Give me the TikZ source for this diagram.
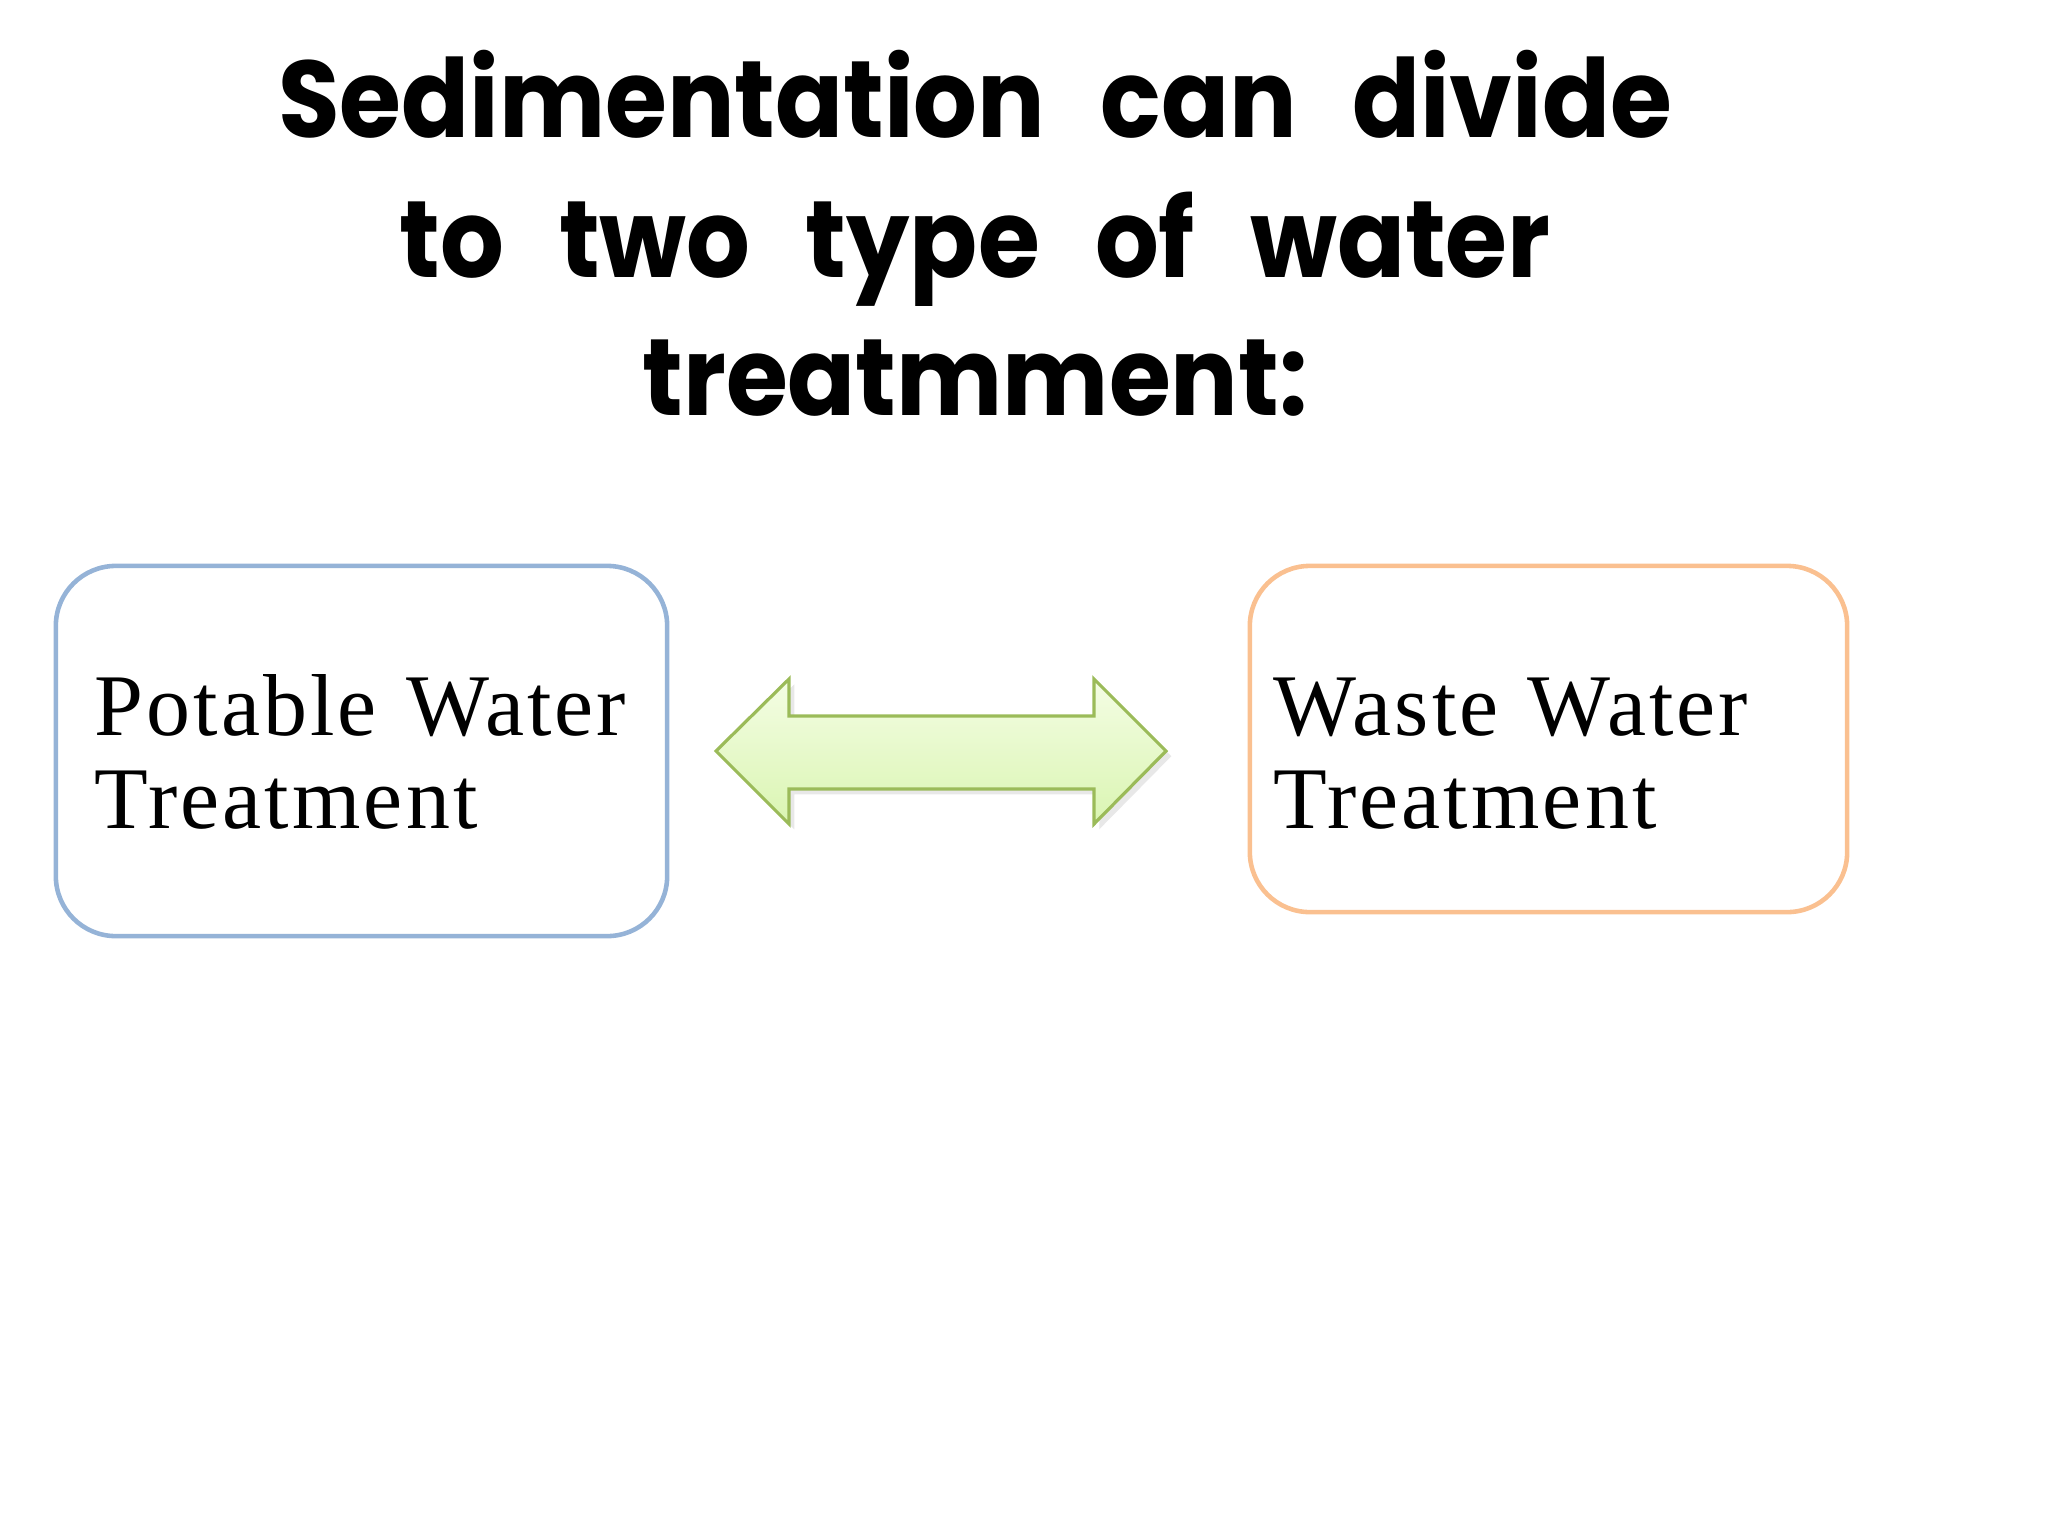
\documentclass[tikz,border=0pt]{standalone}
\usepackage{graphicx}
\usepackage{fontspec}
\usetikzlibrary{shadows}
\newfontfamily\boxfont{Liberation Serif}[LetterSpace=3.5]
\newfontfamily\titlefont{Poppins}
\newcommand{\ttlline}[1]{\scalebox{0.92}[1]{\spaceskip=0.55em\relax #1}}
\definecolor{blueline}{RGB}{149,179,215}
\definecolor{orangeline}{RGB}{250,192,144}
\definecolor{arrowline}{RGB}{155,187,89}
\definecolor{arrowtop}{RGB}{244,253,228}
\definecolor{arrowbot}{RGB}{218,245,178}
\tikzset{
  roundbox/.style={draw, line width=1.3pt, rounded corners=0.6cm, fill=white},
  boxtext/.style={anchor=base west, align=left, text width=6cm, inner sep=0pt,
    font=\boxfont\fontsize{25}{26.7}\selectfont},
  titletext/.style={anchor=base, inner sep=0pt,
    font=\titlefont\bfseries\fontsize{31}{37}\selectfont},
  dblarrow/.style={draw=arrowline, line width=0.9pt, top color=arrowtop, bottom color=arrowbot,
    drop shadow={opacity=0.18, shadow xshift=1.5pt, shadow yshift=-1.5pt}}
}
\begin{document}
\begin{tikzpicture}[x=0.01cm,y=-0.01cm]
\useasboundingbox (0,0) rectangle (2048,1536);
% title
\node[titletext] (t1) at (975,137) {\ttlline{Sedimentation can divide}};
\node[titletext] (t2) at (975,277) {\ttlline{to two type of water}};
\node[titletext] (t3) at (975,415) {\ttlline{treatmment:}};
% boxes
\node[roundbox, draw=blueline, minimum width=6.11cm, minimum height=3.70cm] (potable) at (361.5,751) {};
\node[roundbox, draw=orangeline, minimum width=5.97cm, minimum height=3.46cm] (waste) at (1548.5,739) {};
\node[boxtext] (ptext) at (94,735) {Potable Water\\Treatment};
\node[boxtext] (wtext) at (1273,735) {Waste Water\\Treatment};
% double arrow
\path[dblarrow] (716,751) -- (789,679) -- (789,716) -- (1094,716) -- (1094,679) -- (1166,751)
  -- (1094,824) -- (1094,789) -- (789,789) -- (789,824) -- cycle;
\end{tikzpicture}
\end{document}
